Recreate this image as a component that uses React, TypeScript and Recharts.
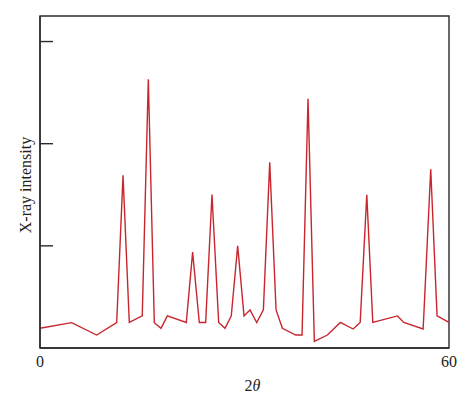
import React from "react";
import {
  LineChart,
  Line,
  XAxis,
  YAxis,
  ReferenceArea,
} from "recharts";

// 2θ positions and relative X-ray intensity
const twoTheta = [
  0, 4.64, 8.31, 11.25, 12.18, 13.1, 15.0, 15.89, 16.77, 17.75, 18.68, 21.46,
  22.39, 23.37, 24.3, 25.23, 26.21, 27.14, 28.06, 29.0, 29.93, 30.81, 31.79,
  32.77, 33.7, 34.63, 35.56, 37.51, 38.44, 39.32, 40.25, 42.16, 44.07, 45.94,
  46.97, 47.94, 48.82, 52.44, 53.37, 56.2, 56.3, 57.32, 58.25, 60,
];
const intensity = [
  0.193, 0.248, 0.127, 0.248, 1.69, 0.25, 0.314, 2.63, 0.248, 0.193, 0.314,
  0.25, 0.938, 0.25, 0.25, 1.503, 0.25, 0.193, 0.314, 1.0, 0.314, 0.373, 0.25,
  0.373, 1.817, 0.373, 0.193, 0.127, 0.127, 2.44, 0.065, 0.127, 0.25, 0.186,
  0.25, 1.5, 0.25, 0.314, 0.25, 0.186, 0.314, 1.75, 0.314, 0.25,
];
const xTicks = [0, 60];
const yTicks = [1, 2, 3];

const data = twoTheta.map((t, i) => ({ t, v: intensity[i] }));

const FONT = "'Liberation Serif', 'Times New Roman', serif";
const AXIS = "#2a2a2a";

const XTitle = ({ viewBox }: any) => (
  <text
    x={viewBox.x + viewBox.width / 2 + 8}
    y={viewBox.y + 43}
    textAnchor="middle"
    fontFamily={FONT}
    fontSize={16}
    fill="#222"
  >
    2<tspan fontStyle="italic">θ</tspan>
  </text>
);

const YTitle = ({ viewBox }: any) => {
  const cx = 25;
  const cy = viewBox.y + viewBox.height / 2 + 3;
  return (
    <text
      x={cx}
      y={cy}
      transform={`rotate(-90 ${cx} ${cy})`}
      textAnchor="middle"
      dominantBaseline="central"
      fontFamily={FONT}
      fontSize={16}
      fill="#222"
    >
      X-ray intensity
    </text>
  );
};

// tick marks only, no labels on the intensity axis
const NoLabel = () => <g />;

export default function App() {
  return (
    <div style={{ position: "absolute", left: 0, top: 0, background: "#fff" }}>
      <LineChart
        width={474}
        height={410}
        data={data}
        margin={{ top: 16, right: 25, left: 40, bottom: 0 }}
      >
        <ReferenceArea
          x1={0}
          x2={60}
          y1={0}
          y2={3.25}
          fill="none"
          stroke={AXIS}
          strokeWidth={1.4}
          ifOverflow="visible"
        />
        <XAxis
          dataKey="t"
          type="number"
          domain={[0, 60]}
          ticks={xTicks}
          height={62}
          tickLine={false}
          axisLine={{ stroke: AXIS, strokeWidth: 1.4 }}
          tick={{ fontFamily: FONT, fontSize: 16, fill: "#222" }}
          label={{ content: XTitle }}
        />
        <YAxis
          type="number"
          domain={[0, 3.25]}
          ticks={yTicks}
          width={40}
          mirror
          tickSize={13}
          tick={NoLabel}
          tickLine={{ stroke: AXIS, strokeWidth: 1.4 }}
          axisLine={{ stroke: AXIS, strokeWidth: 1.4 }}
          label={{ content: YTitle }}
        />
        <Line
          type="linear"
          dataKey="v"
          stroke="#c8262e"
          strokeWidth={1.4}
          dot={false}
          isAnimationActive={false}
        />
      </LineChart>
    </div>
  );
}
